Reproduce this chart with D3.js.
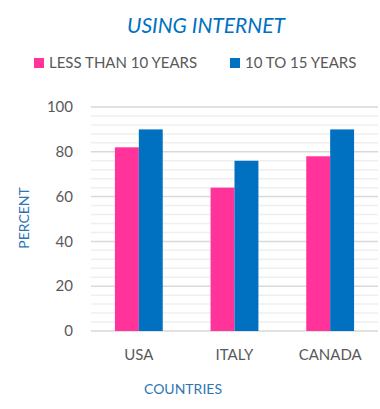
<!DOCTYPE html>
<html>
<head>
<meta charset="utf-8">
<script src="https://cdn.jsdelivr.net/npm/d3@7"></script>
<style>
  body { margin: 0; background: #fff; }
  svg { display: block; font-family: Lato, "Open Sans", sans-serif; }
</style>
</head>
<body>
<svg id="chart"></svg>
<script>
const countries = ['USA', 'ITALY', 'CANADA']
const seriesNames = ['LESS THAN 10 YEARS', '10 TO 15 YEARS']
const lessThan10 = [82, 64, 78]
const tenTo15 = [90, 76, 90]
const yTicks = [0, 20, 40, 60, 80, 100]
const colors = ['#ff3399', '#0070c0']

const width = 380, height = 409
const margin = { left: 91, right: 2, top: 107, bottom: 78 }

const svg = d3.select('#chart').attr('width', width).attr('height', height)

const x = d3.scaleBand().domain(countries).range([margin.left, width - margin.right]).paddingInner(0.5).paddingOuter(0.25)
const xs = d3.scaleBand().domain(seriesNames).range([0, x.bandwidth()])
const y = d3.scaleLinear().domain([0, 100]).range([height - margin.bottom, margin.top])

// minor gridlines
svg.append('g')
  .selectAll('line')
  .data(d3.range(0, 101, 4).filter(v => v % 20 !== 0))
  .join('line')
  .attr('x1', margin.left).attr('x2', width - margin.right)
  .attr('y1', d => y(d)).attr('y2', d => y(d))
  .attr('stroke', '#efefef').attr('stroke-width', 1.5)

// major gridlines
svg.append('g')
  .selectAll('line')
  .data(yTicks)
  .join('line')
  .attr('x1', margin.left).attr('x2', width - margin.right)
  .attr('y1', d => y(d)).attr('y2', d => y(d))
  .attr('stroke', '#d9d9d9').attr('stroke-width', 1.5)

// bars
const rows = countries.map((c, i) => ({ country: c, values: [lessThan10[i], tenTo15[i]] }))
svg.append('g')
  .selectAll('g')
  .data(rows)
  .join('g')
  .attr('transform', d => `translate(${x(d.country)},0)`)
  .selectAll('rect')
  .data(d => d.values.map((v, k) => ({ name: seriesNames[k], value: v, k })))
  .join('rect')
  .attr('x', d => xs(d.name))
  .attr('width', xs.bandwidth())
  .attr('y', d => y(d.value))
  .attr('height', d => y(0) - y(d.value))
  .attr('fill', d => colors[d.k])

// y tick labels
svg.append('g')
  .selectAll('text')
  .data(yTicks)
  .join('text')
  .attr('x', 73).attr('y', d => y(d))
  .attr('dy', '0.35em')
  .attr('text-anchor', 'end')
  .attr('font-size', 15)
  .attr('fill', '#595959')
  .text(d => d)

// x labels
svg.append('g')
  .selectAll('text')
  .data(countries)
  .join('text')
  .attr('x', d => x(d) + x.bandwidth() / 2)
  .attr('y', 360)
  .attr('text-anchor', 'middle')
  .attr('font-size', 15)
  .attr('fill', '#595959')
  .text(d => d)

// axis titles
svg.append('text')
  .attr('x', 183).attr('y', 394)
  .attr('text-anchor', 'middle')
  .attr('font-size', 14)
  .attr('fill', '#2e75b6')
  .text('COUNTRIES')

svg.append('text')
  .attr('transform', 'translate(29,218) rotate(-90)')
  .attr('text-anchor', 'middle')
  .attr('font-size', 14)
  .attr('fill', '#2e75b6')
  .text('PERCENT')

// title
svg.append('text')
  .attr('x', 206).attr('y', 33)
  .attr('text-anchor', 'middle')
  .attr('font-size', 21)
  .attr('font-style', 'italic')
  .attr('fill', '#0070c0')
  .text('USING INTERNET')

// legend
const legendX = [34, 230]
const legend = svg.append('g')
  .selectAll('g')
  .data(seriesNames)
  .join('g')
  .attr('transform', (d, i) => `translate(${legendX[i]},58)`)
legend.append('rect')
  .attr('width', 10).attr('height', 10)
  .attr('fill', (d, i) => colors[i])
legend.append('text')
  .attr('x', 15).attr('y', 10)
  .attr('font-size', 15)
  .attr('fill', '#595959')
  .text(d => d)
</script>
</body>
</html>
